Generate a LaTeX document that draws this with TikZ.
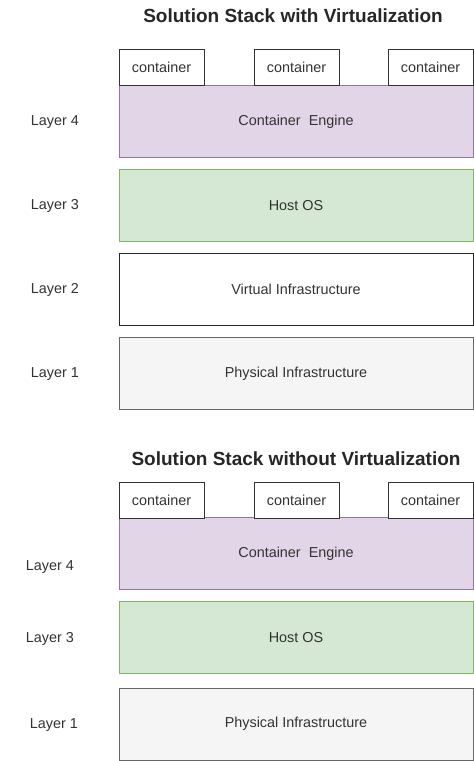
\documentclass[tikz,border=0pt]{standalone}
\usepackage{fontspec}
\setmainfont{Liberation Sans}
\definecolor{purfill}{HTML}{E1D5E7}
\definecolor{purline}{HTML}{9673A6}
\definecolor{grnfill}{HTML}{D5E8D4}
\definecolor{grnline}{HTML}{82B366}
\definecolor{grayfill}{HTML}{F5F5F5}
\definecolor{grayline}{HTML}{666666}
\definecolor{txt}{HTML}{333333}
\tikzset{
  px/.style={x=1bp,y=-1bp},
  lyr/.style={draw, line width=1bp, minimum width=354bp, minimum height=72bp, inner sep=0pt, text=txt, font=\fontsize{14.4bp}{16bp}\selectfont, anchor=north west},
  cont/.style={draw=txt, fill=white, line width=1bp, minimum width=85bp, minimum height=36bp, inner sep=0pt, text=txt, font=\fontsize{14.4bp}{16bp}\selectfont, anchor=north west},
  lbl/.style={text=txt, font=\fontsize{14.4bp}{16bp}\selectfont, inner sep=0pt},
  ttl/.style={text=black!85, font=\bfseries\fontsize{19bp}{21bp}\selectfont, inner sep=0pt},
  engine/.style={lyr, fill=purfill, draw=purline},
  hostos/.style={lyr, fill=grnfill, draw=grnline},
  virt/.style={lyr, fill=white, draw=black!85},
  phys/.style={lyr, fill=grayfill, draw=grayline}
}
\begin{document}
\begin{tikzpicture}[px]
\useasboundingbox[fill=white] (0,0) rectangle (474,761);
% top stack
\node[ttl] (t1) at (293,15.5) {Solution Stack with Virtualization};
\node[engine] (e1) at (118.5,85) {Container\ \ Engine};
\node[cont] (c1a) at (118.5,49) {container};
\node[cont] (c1b) at (253.5,49) {container};
\node[cont] (c1c) at (387.5,49) {container};
\node[hostos] (h1) at (118.5,169) {Host OS};
\node[virt] (v1) at (118.5,253) {Virtual Infrastructure};
\node[phys] (p1) at (118.5,337) {Physical Infrastructure};
\node[lbl] (l14) at (55,122) {Layer 4};
\node[lbl] (l13) at (55,206) {Layer 3};
\node[lbl] (l12) at (55,290) {Layer 2};
\node[lbl] (l11) at (55,374) {Layer 1};
% bottom stack
\node[ttl] (t2) at (296,459) {Solution Stack without Virtualization};
\node[engine] (e2) at (118.5,517) {Container\ \ Engine};
\node[cont] (c2a) at (118.5,482) {container};
\node[cont] (c2b) at (253.5,482) {container};
\node[cont] (c2c) at (387.5,482) {container};
\node[hostos] (h2) at (118.5,601) {Host OS};
\node[phys] (p2) at (118.5,687.5) {Physical Infrastructure};
\node[lbl] (l24) at (50,567) {Layer 4};
\node[lbl] (l23) at (50,639) {Layer 3};
\node[lbl] (l21) at (54,725) {Layer 1};
\end{tikzpicture}
\end{document}
